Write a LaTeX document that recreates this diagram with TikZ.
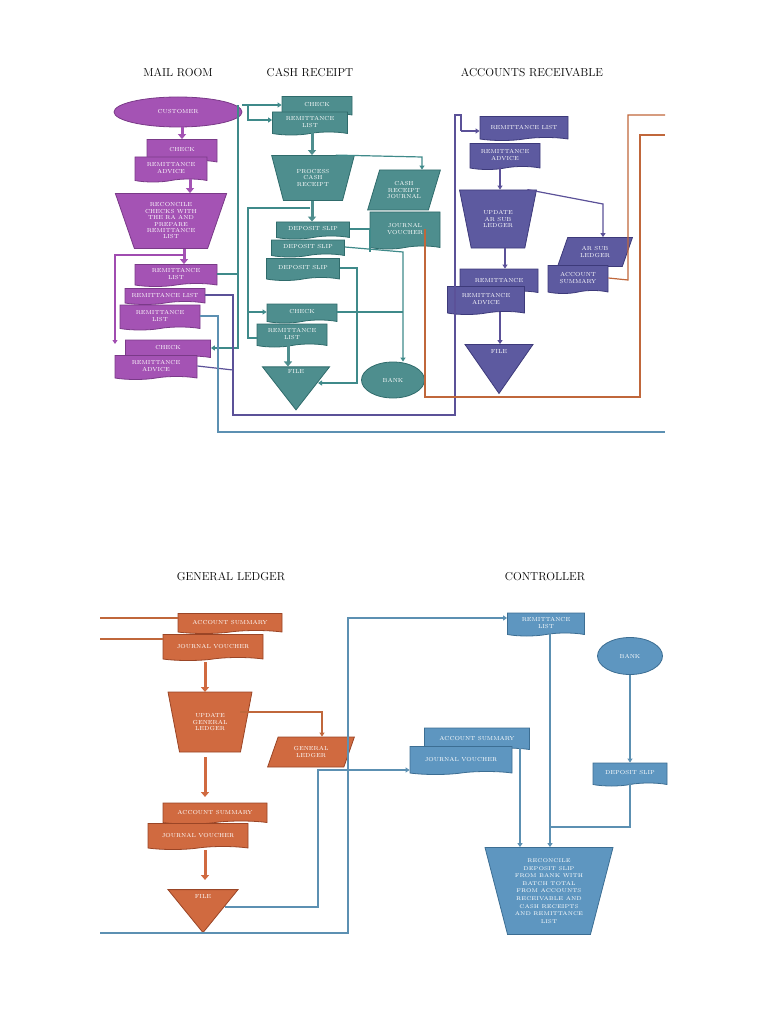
\documentclass[tikz,border=0pt]{standalone}
\usetikzlibrary{shapes.geometric,shapes.symbols,arrows.meta}
\definecolor{purF}{HTML}{A453B4}\definecolor{purD}{HTML}{7A3A88}
\definecolor{teaF}{HTML}{4E8E8E}\definecolor{teaD}{HTML}{2F6B6B}
\definecolor{indF}{HTML}{5D5AA0}\definecolor{indD}{HTML}{3D3A7A}
\definecolor{oraF}{HTML}{D06A40}\definecolor{oraD}{HTML}{9A4526}
\definecolor{bluF}{HTML}{5E96C0}\definecolor{bluD}{HTML}{3C6E93}
\definecolor{teaL}{HTML}{3F8A8A}\definecolor{indL}{HTML}{5B5198}
\definecolor{bluL}{HTML}{5C90B2}\definecolor{oraL}{HTML}{C0673B}
\definecolor{purL}{HTML}{A04CB0}
\begin{document}
\begin{tikzpicture}[x=1pt,y=-1pt,
  every node/.style={font=\fontsize{5.8}{6.4}\selectfont, text=white, align=center, inner sep=1pt},
  base/.style={fill=#1F, draw=#1D, line width=0.8pt},
  doc/.style={base=#1, tape, tape bend top=none, tape bend height=3pt},
  ell/.style={base=#1, ellipse},
  trap/.style={base=#1, trapezium, shape border rotate=180, trapezium stretches=true, trapezium left angle=70, trapezium right angle=70},
  para/.style={base=#1, trapezium, trapezium stretches=true, trapezium left angle=65, trapezium right angle=115},
  file/.style={base=#1, isosceles triangle, shape border rotate=-90, isosceles triangle stretches=true},
  title/.style={font=\fontsize{11.5}{13}\selectfont, text=black},
  ln/.style={draw=#1, line width=1.2pt},
  ar/.style={draw=#1, line width=1.2pt, -{Triangle[length=4pt,width=5pt]}},
  big/.style={draw=#1, line width=3pt, -{Triangle[length=5pt,width=8pt]}}]
\useasboundingbox (0,0) rectangle (768,1024);
% titles
\node[title] (t1) at (178,73) {MAIL ROOM};
\node[title] (t2) at (310,73) {CASH RECEIPT};
\node[title] (t3) at (532,73) {ACCOUNTS RECEIVABLE};
\node[title] (t4) at (231,577) {GENERAL LEDGER};
\node[title] (t5) at (545,577) {CONTROLLER};
\coordinate (oA) at (665,115); \coordinate (oB) at (665,135);
\coordinate (bL) at (665,432);
% ---------- MAIL ROOM
\node[ell=pur, minimum width=128pt, minimum height=30pt] (cust) at (178,112) {CUSTOMER};
\node[doc=pur, minimum width=70pt, minimum height=24pt] (mc1) at (182,150) {CHECK};
\node[doc=pur, minimum width=72pt, minimum height=25pt] (mc2) at (171,168) {REMITTANCE\\ADVICE};
\node[trap=pur, minimum width=112pt, minimum height=55pt] (mtr) at (171,221) {RECONCILE\\CHECKS WITH\\THE RA AND\\PREPARE\\REMITTANCE\\LIST};
\node[doc=pur, minimum width=82pt, minimum height=22pt] (mr1) at (176,274) {REMITTANCE\\LIST};
\node[doc=pur, minimum width=80pt, minimum height=16pt] (mr2) at (165,295) {REMITTANCE LIST};
\node[doc=pur, minimum width=80pt, minimum height=25pt] (mr3) at (160,316) {REMITTANCE\\LIST};
\node[doc=pur, minimum width=85pt, minimum height=19pt] (mk1) at (168,348) {CHECK};
\node[doc=pur, minimum width=82pt, minimum height=24pt] (mk2) at (156,366) {REMITTANCE\\ADVICE};
\draw[big=purF] (cust.south -| mc1) -- (mc1.north);
\draw[big=purF] (mc2.south -| 190,0) -- (mtr.north -| 190,0);
\draw[big=purF] (184,249) -- (mr1.north -| 184,0);
\coordinate (pl1) at (184,255);
\draw[ar=purL] (pl1) -- (115,255) -- (115,344) coordinate (pl2);
% ---------- CASH RECEIPT
\node[doc=tea, minimum width=70pt, minimum height=20pt] (cc1) at (317,105) {CHECK};
\node[doc=tea, minimum width=75pt, minimum height=23pt] (cc2) at (310,122) {REMITTANCE\\LIST};
\node[trap=tea, minimum width=83pt, minimum height=45pt] (proc) at (313,178) {PROCESS\\CASH\\RECEIPT};
\node[para=tea, minimum width=73pt, minimum height=40pt] (crj) at (404,190) {CASH\\RECEIPT\\JOURNAL};
\node[doc=tea, minimum width=70pt, minimum height=37pt] (jv) at (405,229) {JOURNAL\\VOUCHER};
\node[doc=tea, minimum width=73pt, minimum height=17pt] (d1) at (313,229) {DEPOSIT SLIP};
\node[doc=tea, minimum width=73pt, minimum height=17pt] (d2) at (308,247) {DEPOSIT SLIP};
\node[doc=tea, minimum width=73pt, minimum height=22pt] (d3) at (303,268) {DEPOSIT SLIP};
\node[doc=tea, minimum width=70pt, minimum height=19pt] (ck1) at (302,312) {CHECK};
\node[doc=tea, minimum width=70pt, minimum height=23pt] (ck2) at (292,334) {REMITTANCE\\LIST};
\node[file=tea, minimum width=67pt, minimum height=43pt] (cf) at (296,383) {};
\node at (296,372) {FILE};
\node[ell=tea, minimum width=63pt, minimum height=36pt] (bank) at (393,380) {BANK};
\draw[big=teaF] (cc2.south -| 312,0) -- (proc.north -| 312,0);
\draw[big=teaF] (proc.south -| 312,0) -- (d1.north -| 312,0);
\draw[big=teaF] (ck2.south -| 288,0) -- (cf.north -| 288,0);
\coordinate (c1) at (238,105); \coordinate (c2) at (248,105);
\draw[ar=teaL] (cust.east |- c1) -- (cc1.west |- c1);
\draw[ar=teaL] (c2) -- (248,120) -- (cc2.west |- 0,120);
\draw[ar=teaL] (c1) -- (238,348) -- (mk1.east |- 0,348);
\draw[ln=teaL] (mr1.east) -- (238,274);
\draw[ar=teaL] (proc.north east) -- (422,157) -- (crj.north -| 422,0);
\coordinate (c3) at (310,208);
\draw[ln=teaL] (c3) -- (248,208) -- (248,338) -- (ck2.west |- 0,338);
\draw[ar=teaL] (248,312) -- (ck1.west);
\draw[ln=teaL] (d1.east) -- (370,229) -- (370,252);
\draw[ar=teaL] (d2.east) -- (403,252) -- (bank.north -| 403,0);
\draw[ln=teaL] (ck1.east) -- (403,312);
\draw[ar=teaL] (d3.east) -- (357,268) -- (357,383) -- (318,383);
% ---------- ACCOUNTS RECEIVABLE
\node[doc=ind, minimum width=88pt, minimum height=24pt] (arl) at (524,127) {REMITTANCE LIST};
\node[doc=ind, minimum width=70pt, minimum height=26pt] (ara) at (505,155) {REMITTANCE\\ADVICE};
\node[trap=ind, minimum width=77pt, minimum height=58pt] (upd) at (498,219) {UPDATE\\AR SUB\\LEDGER};
\node[para=ind, minimum width=75pt, minimum height=29pt] (arsub) at (595,252) {AR SUB\\LEDGER};
\node[doc=ind, minimum width=60pt, minimum height=28pt] (asum) at (578,278) {ACCOUNT\\SUMMARY};
\node[doc=ind, minimum width=78pt, minimum height=25pt] (rem) at (499,280) {REMITTANCE};
\node[doc=ind, minimum width=77pt, minimum height=28pt] (rema) at (486,299) {REMITTANCE\\ADVICE};
\node[file=ind, minimum width=68pt, minimum height=49pt] (arf) at (499,362) {};
\node at (499,352) {FILE};
\draw[ar=indL] (ara.south -| 500,0) -- (upd.north -| 500,0);
\draw[ar=indL] (upd.south -| 505,0) -- (rem.north -| 505,0);
\draw[ar=indL] (rema.south -| 500,0) -- (arf.north -| 500,0);
\draw[ar=indL] (upd.north east) -- (603,204) -- (arsub.north -| 603,0);
\draw[ln=indL] (mr2.east) -- (233,295) -- (233,415) -- (455,415) -- (455,115) -- (461,115) -- (461,131);
\draw[ar=indL] (461,131) -- (arl.west |- 0,131);
\draw[ln=indL] (mk2.east) -- (233,370);
\draw[ln=bluL] (mr3.east) -- (218,316) -- (218,432) -- (bL);
\draw[ln=oraL] (jv.east -| 425,0) -- (425,397) -- (640,397) -- (640,135) -- (oB);
\draw[ln=oraL] (asum.east) -- (628,280) -- (628,115) -- (oA);
% ---------- GENERAL LEDGER
\coordinate (g1) at (100,618); \coordinate (g2) at (100,639);
\node[doc=ora, minimum width=104pt, minimum height=20pt] (gas) at (230,622) {ACCOUNT SUMMARY};
\node[doc=ora, minimum width=100pt, minimum height=26pt] (gjv) at (213,646) {JOURNAL VOUCHER};
\node[trap=ora, minimum width=84pt, minimum height=60pt] (gup) at (210,722) {UPDATE\\GENERAL\\LEDGER};
\node[para=ora, minimum width=87pt, minimum height=30pt] (gl) at (311,752) {GENERAL\\LEDGER};
\node[doc=ora, minimum width=104pt, minimum height=21pt] (gas2) at (215,812) {ACCOUNT SUMMARY};
\node[doc=ora, minimum width=100pt, minimum height=26pt] (gjv2) at (198,835) {JOURNAL VOUCHER};
\node[file=ora, minimum width=70pt, minimum height=43pt] (gf) at (203,906) {};
\node at (203,897) {FILE};
\draw[ln=oraL] (g1) -- (gas.west |- g1);
\draw[ln=oraL] (g2) -- (gjv.west |- g2);
\draw[big=oraF] (205,662) -- (205,692);
\draw[big=oraF] (205,757) -- (205,797);
\draw[big=oraF] (205,850) -- (205,880);
\draw[ar=oraL] (gup.north east |- 0,712) -- (322,712) -- (gl.north -| 322,0);
% ---------- CONTROLLER
\node[doc=blu, minimum width=77pt, minimum height=23pt] (crl) at (546,623) {REMITTANCE\\LIST};
\node[ell=blu, minimum width=65pt, minimum height=37pt] (cb) at (630,656) {BANK};
\node[doc=blu, minimum width=74pt, minimum height=23pt] (cds) at (630,773) {DEPOSIT SLIP};
\node[doc=blu, minimum width=105pt, minimum height=23pt] (cas) at (477,738) {ACCOUNT SUMMARY};
\node[doc=blu, minimum width=102pt, minimum height=28pt] (cjv) at (461,759) {JOURNAL VOUCHER};
\node[trap=blu, minimum width=128pt, minimum height=87pt, trapezium left angle=74, trapezium right angle=74, font=\fontsize{5.4}{7.6}\selectfont] (rec) at (549,891) {RECONCILE\\DEPOSIT SLIP\\FROM BANK WITH\\BATCH TOTAL\\FROM ACCOUNTS\\RECEIVABLE AND\\CASH RECEIPTS\\AND REMITTANCE\\LIST};
\coordinate (g3) at (100,933);
\draw[ar=bluL] (g3) -- (348,933) -- (348,618) -- (crl.west |- 0,618);
\draw[ar=bluL] (gf.east |- 0,907) -- (318,907) -- (318,770) -- (cjv.west |- 0,770);
\draw[ar=bluL] (cb.south) -- (cds.north);
\draw[ar=bluL] (cas.south -| 520,0) -- (rec.north -| 520,0);
\draw[ar=bluL] (crl.south -| 550,0) -- (rec.north -| 550,0);
\draw[ln=bluL] (cds.south) -- (630,827) -- (550,827);
\end{tikzpicture}
\end{document}
